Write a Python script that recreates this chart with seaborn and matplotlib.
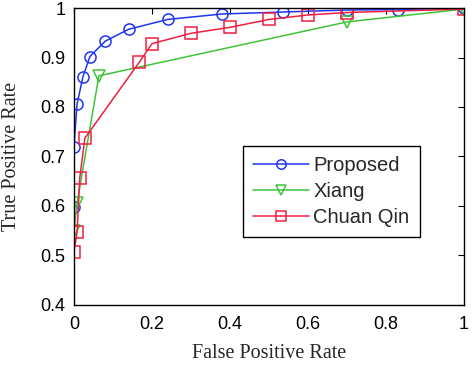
import seaborn as sns
import matplotlib.pyplot as plt
import pandas as pd

# ROC points
proposed_fpr = [0.0, 0.0, 0.008, 0.023, 0.041, 0.08, 0.14, 0.24, 0.38, 0.536, 0.70, 0.83, 1.0]
proposed_tpr = [0.598, 0.72, 0.806, 0.861, 0.902, 0.933, 0.957, 0.977, 0.988, 0.992, 0.996, 0.997, 1.0]

xiang_fpr = [0.0, 0.008, 0.064, 0.70, 1.0]
xiang_tpr = [0.55, 0.606, 0.863, 0.972, 0.998]

chuan_fpr = [0.0, 0.008, 0.015, 0.028, 0.167, 0.2, 0.30, 0.40, 0.50, 0.60, 0.70, 1.0]
chuan_tpr = [0.506, 0.548, 0.657, 0.737, 0.89, 0.928, 0.949, 0.961, 0.977, 0.986, 0.991, 0.998]

series = [
    ("Proposed", proposed_fpr, proposed_tpr, "#1f35f0", "o"),
    ("Xiang", xiang_fpr, xiang_tpr, "#3ec43a", "v"),
    ("Chuan Qin", chuan_fpr, chuan_tpr, "#ee2040", "s"),
]

sns.set_theme(style="white")
fig = plt.figure(figsize=(4.74, 3.66), dpi=100)
ax = fig.add_axes([0.156, 0.167, 0.823, 0.811])

for name, fpr, tpr, color, marker in series:
    df = pd.DataFrame({"fpr": fpr, "tpr": tpr})
    # estimator=None so repeated x values are not averaged
    sns.lineplot(data=df, x="fpr", y="tpr", ax=ax, sort=False, estimator=None, label=name,
                 color=color, marker=marker, markersize=8, markerfacecolor="none",
                 markeredgecolor=color, markeredgewidth=1.1, linewidth=1.1)

ax.set_xlim(0, 1)
ax.set_ylim(0.4, 1)
ax.set_xticks([0, 0.2, 0.4, 0.6, 0.8, 1])
ax.set_xticklabels(["0", "0.2", "0.4", "0.6", "0.8", "1"])
ax.set_yticks([0.4, 0.5, 0.6, 0.7, 0.8, 0.9, 1])
ax.set_yticklabels(["0.4", "0.5", "0.6", "0.7", "0.8", "0.9", "1"])
ax.tick_params(direction="in", length=4, width=0.8, top=True, right=True,
               labelsize=13, colors="black")
ax.tick_params(axis="x", pad=8)
ax.tick_params(axis="y", pad=6)
for lbl in ax.get_xticklabels() + ax.get_yticklabels():
    lbl.set_family("Liberation Sans")
for sp in ax.spines.values():
    sp.set_color("black")
    sp.set_linewidth(1.0)

ax.set_xlabel("False Positive Rate", family="Liberation Serif", fontsize=14.5, labelpad=8)
ax.set_ylabel("True Positive Rate", family="Liberation Serif", fontsize=14.5, labelpad=14)

leg = ax.legend(loc="upper left", bbox_to_anchor=(0.433, 0.535), fancybox=False,
                edgecolor="black", framealpha=1, handlelength=2.8, borderpad=0.5,
                labelspacing=0.35, handletextpad=0.2, borderaxespad=0,
                markerscale=0.85,
                prop={"family": "Liberation Sans", "size": 14.5})
leg.get_frame().set_linewidth(1.0)

plt.savefig("out.png", dpi=100)
